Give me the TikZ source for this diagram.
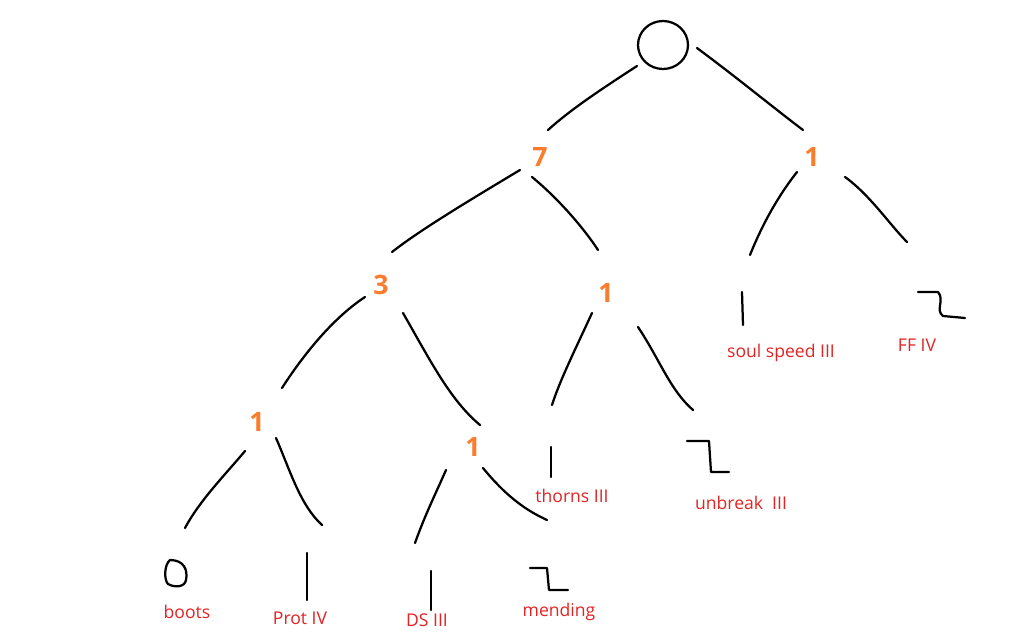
\documentclass[tikz,border=0pt]{standalone}
\usepackage{fontspec}
\setmainfont{Open Sans}
\definecolor{numc}{RGB}{250,125,45}
\definecolor{labc}{RGB}{225,35,35}
\begin{document}
\begin{tikzpicture}[x=0.025cm,y=-0.025cm,
 ink/.style={line width=1.6pt,line cap=round,line join=round},
 num/.style={text=numc,font=\fontsize{19}{19}\selectfont\bfseries,inner sep=0pt},
 lab/.style={text=labc,font=\fontsize{12.5}{13}\selectfont,inner sep=0pt}]
\useasboundingbox (0,0) rectangle (1033,644);
\draw[ink] (663,45) ellipse (25 and 24);
\node[num] (n7) at (540,157) {7};
\node[num] (n1a) at (812,157) {1};
\node[num] (n3) at (381,285) {3};
\node[num] (n1b) at (606,293) {1};
\node[num] (n1c) at (257,422) {1};
\node[num] (n1d) at (473,447) {1};
\draw[ink] (637,66) .. controls (600,90) and (570,110) .. (548,130);
\draw[ink] (697,48) .. controls (740,80) and (770,105) .. (803,130);
\draw[ink] (520,170) .. controls (470,200) and (420,230) .. (392,252);
\draw[ink] (532,177) .. controls (560,200) and (585,230) .. (598,250);
\draw[ink] (797,172) .. controls (775,200) and (760,230) .. (750,255);
\draw[ink] (845,177) .. controls (870,195) and (890,225) .. (907,242);
\draw[ink] (365,297) .. controls (330,320) and (300,360) .. (282,388);
\draw[ink] (403,313) .. controls (430,360) and (450,400) .. (480,425);
\draw[ink] (592,313) .. controls (575,350) and (560,380) .. (552,405);
\draw[ink] (638,327) .. controls (660,360) and (670,390) .. (693,410);
\draw[ink] (245,451) .. controls (225,475) and (200,500) .. (185,528);
\draw[ink] (276,438) .. controls (290,470) and (300,505) .. (322,525);
\draw[ink] (446,470) .. controls (435,495) and (425,515) .. (415,543);
\draw[ink] (483,468) .. controls (505,495) and (525,510) .. (547,520);
\draw[ink] (170,560) .. controls (164,565) and (164,580) .. (168,584) .. controls (175,588) and (185,587) .. (186,580) .. controls (188,570) and (184,560) .. (170,560);
\draw[ink] (307,553) -- (307,600);
\draw[ink] (431,571) -- (431,610);
\draw[ink] (530,568) -- (547,568) -- (549,590) -- (568,590);
\draw[ink] (551,447) -- (551,477);
\draw[ink] (687,441) -- (709,441) -- (711,472) -- (729,472);
\draw[ink] (742,292) -- (743,325);
\draw[ink] (918,292) -- (938,292) .. controls (945,300) and (935,310) .. (943,316) -- (965,318);
\node[lab] (lb1) at (187,612) {boots};
\node[lab] (lb2) at (300,618) {Prot IV};
\node[lab] (lb3) at (427,620) {DS III};
\node[lab] (lb4) at (559,612) {mending};
\node[lab] (lb5) at (572,496) {thorns III};
\node[lab] (lb6) at (741,503) {unbreak~~III};
\node[lab] (lb7) at (781,353) {soul speed III};
\node[lab] (lb8) at (917,345) {FF IV};
\end{tikzpicture}
\end{document}
